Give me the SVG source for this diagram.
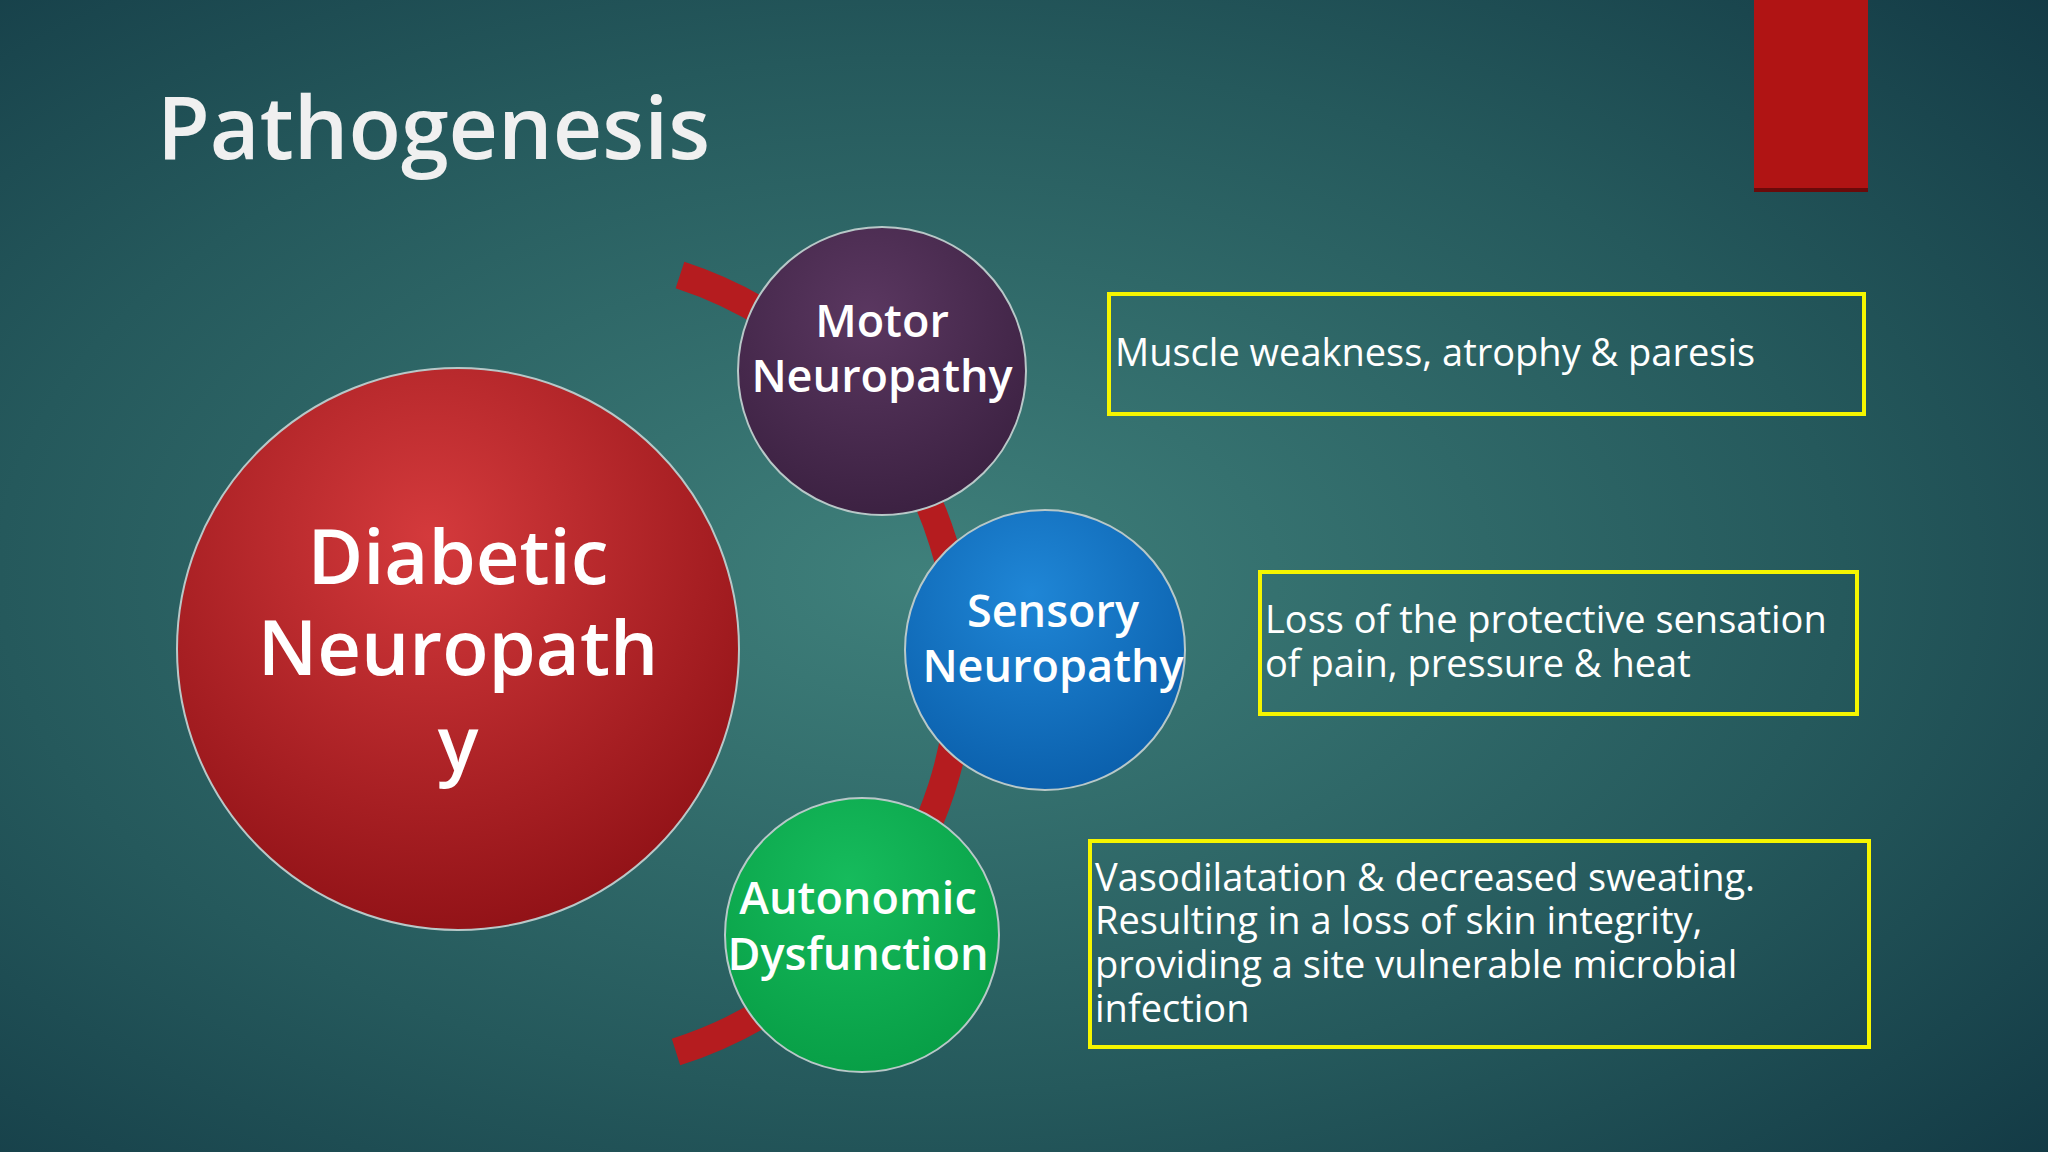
<svg xmlns="http://www.w3.org/2000/svg" width="2048" height="1152" viewBox="0 0 2048 1152">
<defs>
<radialGradient id="bg" cx="0.45" cy="0.5" r="0.75">
<stop offset="0" stop-color="#3f807b"/><stop offset="0.6" stop-color="#25595c"/><stop offset="1" stop-color="#133a45"/>
</radialGradient>
<radialGradient id="gRed" cx="0.45" cy="0.3" r="0.75"><stop offset="0" stop-color="#d43a3c"/><stop offset="1" stop-color="#8e1015"/></radialGradient>
<radialGradient id="gPur" cx="0.45" cy="0.3" r="0.75"><stop offset="0" stop-color="#5a3760"/><stop offset="1" stop-color="#3a2040"/></radialGradient>
<radialGradient id="gBlu" cx="0.45" cy="0.3" r="0.75"><stop offset="0" stop-color="#1f86d6"/><stop offset="1" stop-color="#0a5eaa"/></radialGradient>
<radialGradient id="gGrn" cx="0.45" cy="0.3" r="0.75"><stop offset="0" stop-color="#16bb5c"/><stop offset="1" stop-color="#079d45"/></radialGradient>
</defs>
<style>
.t{font-family:"Open Sans","Noto Sans",sans-serif;fill:#fff;text-anchor:middle;font-weight:600}
.b{font-family:"Open Sans","Noto Sans",sans-serif;fill:#fff;font-size:38px}
.box{fill:none;stroke:#f5f500;stroke-width:4}
.c{stroke:#b8c8c8;stroke-width:2}
</style>
<rect width="2048" height="1152" fill="url(#bg)"/>
<rect x="1754" y="0" width="114" height="192" fill="#b01414"/>
<rect x="1754" y="188" width="114" height="4" fill="#6a0a0a"/>
<text x="157" y="159" font-family="Open Sans,Noto Sans,sans-serif" font-size="86" font-weight="600" fill="#f0f0f0">Pathogenesis</text>
<g id="connectors">
<path d="M680 275 A408 408 0 0 1 676 1052" fill="none" stroke="#b51c1f" stroke-width="28"/>
</g>
<g id="diabetic"><circle cx="458" cy="649" r="281" fill="url(#gRed)" class="c"/>
<text class="t" font-size="76"><tspan x="458" y="584">Diabetic</tspan><tspan x="458" y="675">Neuropath</tspan><tspan x="458" y="771">y</tspan></text></g>
<g id="motor"><circle cx="882" cy="371" r="144" fill="url(#gPur)" class="c"/>
<text class="t" font-size="45"><tspan x="882" y="337">Motor</tspan><tspan x="882" y="392">Neuropathy</tspan></text></g>
<g id="sensory"><circle cx="1045" cy="650" r="140" fill="url(#gBlu)" class="c"/>
<text class="t" font-size="45"><tspan x="1053" y="627">Sensory</tspan><tspan x="1053" y="682">Neuropathy</tspan></text></g>
<g id="autonomic"><circle cx="862" cy="935" r="137" fill="url(#gGrn)" class="c"/>
<text class="t" font-size="45"><tspan x="858" y="914">Autonomic</tspan><tspan x="858" y="970">Dysfunction</tspan></text></g>
<g id="box1"><rect class="box" x="1109" y="294" width="755" height="120"/>
<text class="b" x="1115" y="366">Muscle weakness, atrophy &amp; paresis</text></g>
<g id="box2"><rect class="box" x="1260" y="572" width="597" height="142"/>
<text class="b"><tspan x="1265" y="633">Loss of the protective sensation</tspan><tspan x="1265" y="677">of pain, pressure &amp; heat</tspan></text></g>
<g id="box3"><rect class="box" x="1090" y="841" width="779" height="206"/>
<text class="b"><tspan x="1095" y="891">Vasodilatation &amp; decreased sweating.</tspan><tspan x="1095" y="934">Resulting in a loss of skin integrity,</tspan><tspan x="1095" y="978">providing a site vulnerable microbial</tspan><tspan x="1095" y="1022">infection</tspan></text></g>
</svg>
